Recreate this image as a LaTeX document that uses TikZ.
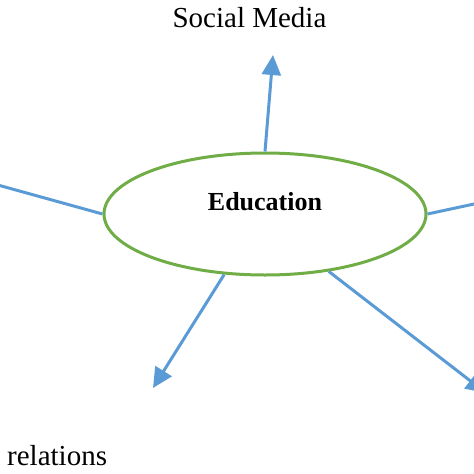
\documentclass[tikz,border=0pt]{standalone}
\usepackage{fontspec}
\setmainfont{Liberation Serif}
\usetikzlibrary{arrows.meta,shapes.geometric}
\definecolor{arrowblue}{HTML}{5B9BD5}
\definecolor{ringgreen}{HTML}{70AD47}
\tikzset{
  hub/.style={ellipse, draw=ringgreen, line width=3pt, minimum width=322pt, minimum height=122pt, inner sep=0pt},
  link/.style={draw=arrowblue, line width=3pt, -{Triangle[length=20pt,width=19pt]}},
  lbl/.style={inner sep=0pt, font=\fontsize{29}{34}\selectfont},
}
\begin{document}
\begin{tikzpicture}[x=1pt,y=-1pt]
\useasboundingbox (0,0) rectangle (474,474);
\clip (0,0) rectangle (474,474);
\node[hub] (edu) at (265,214) {};
\node[inner sep=0pt, anchor=base, font=\fontsize{26}{30}\selectfont\bfseries] (edut) at (265,210) {Education};
\node[lbl, anchor=base] (sm) at (249.5,27) {Social Media};
\node[lbl, anchor=base west] (rel) at (7,465) {relations};
\coordinate (tTop) at (273,55);
\coordinate (tLeft) at (-60,169);
\coordinate (tRight) at (530,192);
\coordinate (tBL) at (153,388);
\coordinate (tBR) at (486,393);
\draw[link] (edu.north) -- (tTop);
\draw[link] (edu.west) -- (tLeft);
\draw[link] (edu.east) -- (tRight);
\draw[link] (edu.236) -- (tBL);
\draw[link] (edu.318) -- (tBR);
\end{tikzpicture}
\end{document}
